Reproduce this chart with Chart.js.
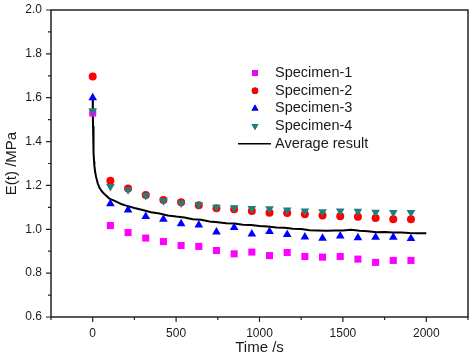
<!DOCTYPE html>
<html>
<head>
<meta charset="utf-8">
<script src="https://cdn.jsdelivr.net/npm/chart.js@4"></script>
<style>
  html, body { margin: 0; padding: 0; background: #fff; }
  #wrap { width: 474px; height: 364px; }
</style>
</head>
<body>
<div id="wrap"><canvas id="c"></canvas></div>
<script>
// sample times (s) for the specimens
const times = [0, 106, 212, 318, 424, 530, 636, 742, 848, 954, 1060, 1166, 1272, 1378, 1484, 1590, 1696, 1802, 1908];

const specimen1 = [1.53, 1.017, 0.985, 0.960, 0.944, 0.926, 0.922, 0.903, 0.888, 0.896, 0.880, 0.894, 0.876, 0.873, 0.876, 0.864, 0.849, 0.858, 0.858];
const specimen2 = [1.697, 1.221, 1.186, 1.156, 1.134, 1.123, 1.110, 1.096, 1.091, 1.083, 1.075, 1.074, 1.068, 1.063, 1.060, 1.057, 1.051, 1.046, 1.046];
const specimen3 = [1.60, 1.117, 1.088, 1.058, 1.046, 1.025, 1.020, 0.988, 1.008, 0.979, 0.990, 0.976, 0.965, 0.959, 0.969, 0.961, 0.964, 0.964, 0.958];
const specimen4 = [1.54, 1.195, 1.180, 1.154, 1.130, 1.120, 1.112, 1.101, 1.098, 1.095, 1.094, 1.088, 1.083, 1.080, 1.083, 1.082, 1.078, 1.077, 1.077];

// average curve
const avgTimes = [0, 1, 2, 4, 6, 8, 10, 15, 20, 30, 40, 50, 60, 75, 100, 125, 150, 175, 200, 250, 300, 350, 400, 450, 500,
  550, 600, 650, 700, 750, 800, 850, 900, 950, 1000, 1050, 1100, 1150, 1200, 1250, 1300, 1350, 1400, 1450,
  1500, 1550, 1600, 1650, 1700, 1750, 1800, 1850, 1900, 1950, 2000];
const avgValues = [1.59, 1.52, 1.47, 1.40, 1.35, 1.31, 1.29, 1.26, 1.24, 1.21, 1.19, 1.178, 1.169, 1.157, 1.140, 1.132, 1.123, 1.114, 1.108, 1.097, 1.088, 1.078, 1.072, 1.063, 1.058,
  1.054, 1.046, 1.043, 1.036, 1.032, 1.027, 1.026, 1.021, 1.020, 1.015, 1.013, 1.008, 1.007, 1.002, 1.001, 0.996, 0.995, 0.993, 0.994,
  0.994, 0.998, 0.993, 0.991, 0.987, 0.988, 0.985, 0.985, 0.983, 0.982, 0.982];

const seriesNames = ['Specimen-1', 'Specimen-2', 'Specimen-3', 'Specimen-4', 'Average result'];
const seriesColors = ['#ff00ff', '#ff0000', '#0000ff', '#1f7f7f', '#000000'];

const xMin = -250, xMax = 2250;
const yMin = 0.6, yMax = 2.0;

function pts(xs, ys) {
  return xs.map((x, i) => ({x: x, y: ys[i]}));
}

const FONT = 'Liberation Sans, Arial, sans-serif';
const textColor = '#1a1a1a';

// frame, ticks and the in-plot legend
const framePlugin = {
  id: 'frame',
  afterDraw(chart) {
    const ctx = chart.ctx;
    const a = chart.chartArea;
    const xs = chart.scales.x, ys = chart.scales.y;
    ctx.save();
    ctx.strokeStyle = '#222';
    ctx.lineWidth = 1.5;
    ctx.strokeRect(a.left, a.top, a.right - a.left, a.bottom - a.top);
    ctx.lineWidth = 1.2;
    ctx.beginPath();
    xs.ticks.forEach(t => {
      const px = xs.getPixelForValue(t.value);
      const len = (t.value % 500 === 0) ? 5 : 3;
      ctx.moveTo(px, a.bottom);
      ctx.lineTo(px, a.bottom + len);
    });
    ys.ticks.forEach(t => {
      const py = ys.getPixelForValue(t.value);
      const len = (Math.round(t.value * 10) % 2 === 0) ? 5 : 3;
      ctx.moveTo(a.left, py);
      ctx.lineTo(a.left - len, py);
    });
    ctx.stroke();

    // legend
    const lx = a.left + 204;   // marker centre
    const tx = a.left + 224;   // text start
    const ty0 = a.top + 63;
    const dy = 17.7;
    ctx.font = '14.5px ' + FONT;
    ctx.textBaseline = 'middle';
    ctx.textAlign = 'left';
    chart.data.datasets.forEach((ds, i) => {
      const y = ty0 + i * dy;
      if (ds.showLine) {
        ctx.strokeStyle = ds.borderColor;
        ctx.lineWidth = 1.5;
        ctx.beginPath();
        ctx.moveTo(lx - 17, y);
        ctx.lineTo(lx + 16, y);
        ctx.stroke();
      } else {
        Chart.helpers.drawPoint(ctx, {
          pointStyle: ds.pointStyle,
          radius: ds.pointRadius * 0.8,
          rotation: ds.rotation || 0,
          borderWidth: 0
        }, lx, y);
        ctx.fillStyle = ds.backgroundColor;
        ctx.fill();
      }
      ctx.fillStyle = textColor;
      ctx.fillText(ds.label, tx, y);
    });
    ctx.restore();
  }
};

function markerSet(i, data, style, radius, rotation, order) {
  return {
    label: seriesNames[i],
    data: data,
    showLine: false,
    pointStyle: style,
    pointRadius: radius,
    rotation: rotation,
    backgroundColor: seriesColors[i],
    borderColor: seriesColors[i],
    pointBorderWidth: 0,
    borderWidth: 0,
    order: order
  };
}

const datasets = [
  markerSet(0, pts(times, specimen1), 'rect', 5, 0, 4),
  markerSet(1, pts(times, specimen2), 'circle', 4, 0, 3),
  markerSet(2, pts(times, specimen3), 'triangle', 5, 0, 2),
  markerSet(3, pts(times, specimen4), 'triangle', 5, 180, 1),
  {
    label: seriesNames[4],
    data: pts(avgTimes, avgValues),
    showLine: true,
    borderColor: seriesColors[4],
    backgroundColor: seriesColors[4],
    borderWidth: 2,
    pointRadius: 0,
    tension: 0,
    order: 5
  }
];

new Chart(document.getElementById('c'), {
  type: 'scatter',
  data: { datasets: datasets },
  options: {
    responsive: true,
    maintainAspectRatio: false,
    animation: false,
    events: [],
    layout: { padding: { left: 0, right: 6, top: 10, bottom: 0 } },
    plugins: {
      legend: { display: false },
      tooltip: { enabled: false }
    },
    scales: {
      x: {
        type: 'linear',
        min: xMin,
        max: xMax,
        afterFit: s => { s.height = 47; s.paddingLeft = 0; s.paddingRight = 0; },
        grid: { display: false, drawTicks: false },
        border: { display: false },
        ticks: {
          stepSize: 250,
          autoSkip: false,
          maxRotation: 0,
          padding: 9,
          color: textColor,
          font: { family: FONT, size: 12 },
          callback: v => (v % 500 === 0 ? String(v) : '')
        },
        title: {
          display: true,
          text: 'Time /s',
          color: textColor,
          font: { family: FONT, size: 15 },
          padding: { top: 7, bottom: 7 }
        }
      },
      y: {
        type: 'linear',
        min: yMin,
        max: yMax,
        afterFit: s => { s.width = 51; s.paddingTop = 0; s.paddingBottom = 0; },
        grid: { display: false, drawTicks: false },
        border: { display: false },
        ticks: {
          stepSize: 0.1,
          autoSkip: false,
          padding: 9,
          color: textColor,
          font: { family: FONT, size: 12 },
          callback: v => (Math.round(v * 10) % 2 === 0 ? v.toFixed(1) : '')
        },
        title: {
          display: true,
          text: 'E(t) /MPa',
          color: textColor,
          font: { family: FONT, size: 15 },
          padding: { top: 3, bottom: 3 }
        }
      }
    }
  },
  plugins: [framePlugin]
});
</script>
</body>
</html>
